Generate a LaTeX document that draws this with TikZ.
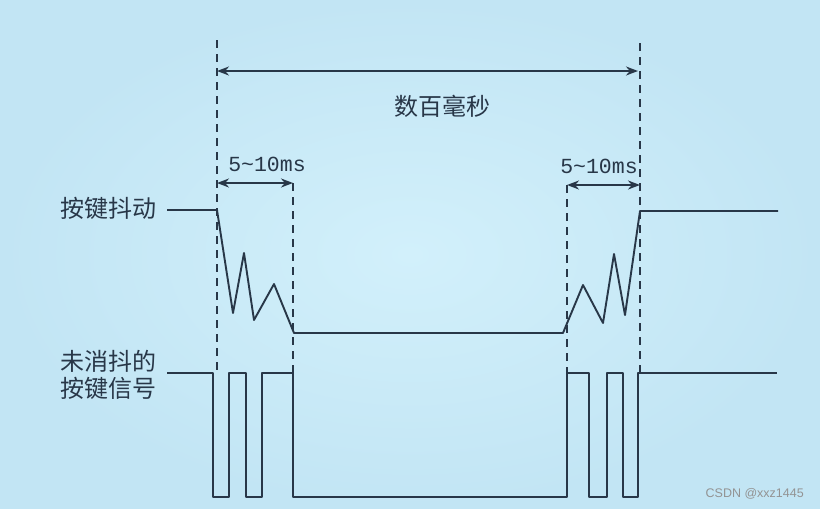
\documentclass[tikz,border=0pt]{standalone}
\usepackage{fontspec}
\setmainfont{Liberation Serif}
\newfontfamily\cjk{Noto Sans CJK SC}
\newfontfamily\msfont{Liberation Mono}
\newfontfamily\wmfont{Liberation Sans}
\usetikzlibrary{arrows.meta}
\definecolor{bgout}{RGB}{194,229,244}
\definecolor{bgin}{RGB}{210,240,251}
\definecolor{ink}{RGB}{40,55,72}
\tikzset{
  sig/.style={draw=ink, line width=1.9pt, line join=round},
  guide/.style={draw=ink, line width=1.5pt, dash pattern=on 8pt off 6pt},
  dim/.style={draw=ink, line width=1.9pt, {Stealth[length=12pt,width=9pt]}-{Stealth[length=12pt,width=9pt]}},
  cjklab/.style={font=\cjk\fontsize{24}{27}\selectfont, text=ink, inner sep=0pt},
  mslab/.style={font=\msfont\fontsize{21.5}{24}\selectfont, text=ink, inner sep=0pt},
}
\begin{document}
\begin{tikzpicture}[x=1pt,y=-1pt]
\useasboundingbox (0,0) rectangle (820,509);
\shade[inner color=bgin, outer color=bgout] (0,0) rectangle (820,509);

% guide coordinates
\coordinate (gA) at (217,40);
\coordinate (gAb) at (217,373);
\coordinate (gB) at (640,43);
\coordinate (gBb) at (640,373);
\coordinate (gC) at (293,183);
\coordinate (gCb) at (293,373);
\coordinate (gD) at (567,185);
\coordinate (gDb) at (567,373);

\draw[guide] (gA) -- (gAb);
\draw[guide] (gB) -- (gBb);
\draw[guide] (gC) -- (gCb);
\draw[guide] (gD) -- (gDb);

% dimension arrows
\coordinate (bigL) at (217,71);
\coordinate (bigR) at (638,71);
\draw[dim] (bigL) -- (bigR);
\node[cjklab] (big) at (442,106) {数百毫秒};

\coordinate (s1L) at (217,183);
\coordinate (s1R) at (293,183);
\draw[dim] (s1L) -- (s1R);
\node[mslab] (ms1) at (267,164) {5\char"007E 10ms};

\coordinate (s2L) at (567,185);
\coordinate (s2R) at (640,185);
\draw[dim] (s2L) -- (s2R);
\node[mslab] (ms2) at (599,166) {5\char"007E 10ms};

% labels
\node[cjklab] (lab1) at (108,208) {按键抖动};
\node[cjklab, align=left] (lab2) at (108,375) {未消抖的\\按键信号};

% bouncing signal
\draw[sig] (167,210) -- (217,210) -- (233,313) -- (244,253) -- (254,320)
  -- (274,284) -- (294,333) -- (563,333) -- (583,285) -- (603,323)
  -- (614,254) -- (625,315) -- (640,211) -- (778,211);

% undebounced square wave
\draw[sig] (167,373) -- (213,373) -- (213,497) -- (229,497) -- (229,373)
  -- (246,373) -- (246,497) -- (262,497) -- (262,373) -- (293,373)
  -- (293,497) -- (567,497) -- (567,373) -- (589,373) -- (589,497)
  -- (607,497) -- (607,373) -- (623,373) -- (623,497) -- (638,497)
  -- (638,373) -- (777,373);

% watermark
\node[font=\wmfont\fontsize{12.5}{14}\selectfont, text=gray!85, anchor=east, inner sep=0pt] (wm) at (804,494) {CSDN @xxz1445};
\end{tikzpicture}
\end{document}
